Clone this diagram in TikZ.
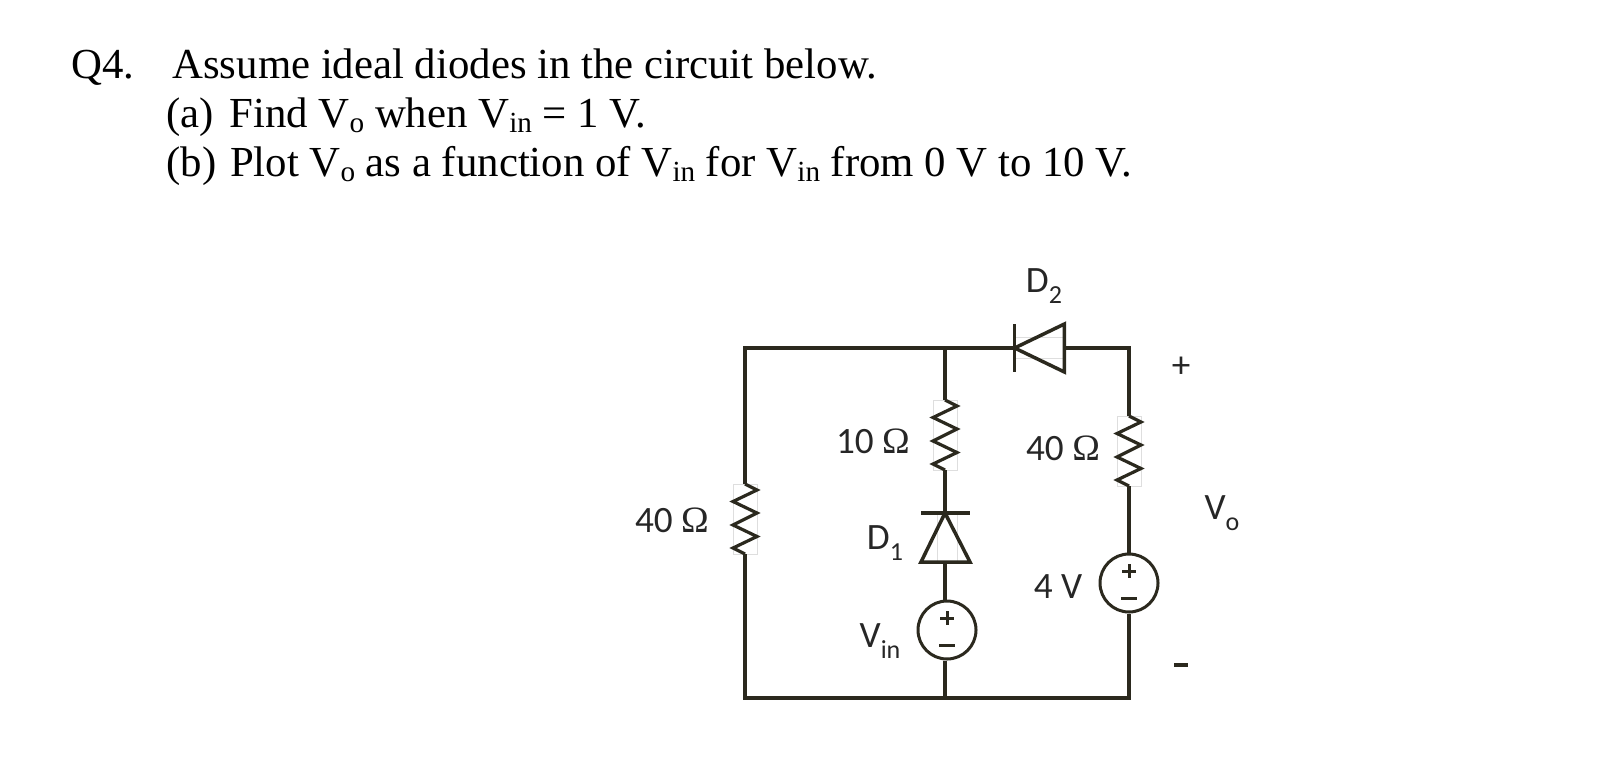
\documentclass[tikz,border=0pt]{standalone}
\usepackage{fontspec}
\setmainfont{Liberation Serif}
\newfontfamily\labelfont{Carlito}
\newfontfamily\ohmfont{Liberation Serif}
\usetikzlibrary{positioning,calc}
\definecolor{wirecol}{HTML}{2B291E}
\newcommand{\lowsub}[1]{\raisebox{-.12em}{\fontsize{14.6}{14.6}\selectfont #1}}
\newcommand{\labsub}[1]{\raisebox{-.3em}{\fontsize{13}{13}\selectfont #1}}
\newcommand{\ohm}{{\ohmfont Ω}}

\begin{document}
\begin{tikzpicture}[x=0.5pt,y=-0.5pt,line join=miter]
\tikzstyle{wire}=[draw=wirecol,line width=1.75pt]
\tikzstyle{boxfaint}=[draw=black!13,line width=.4pt,inner sep=0pt]
\tikzstyle{resbox}=[boxfaint,minimum width=12pt,minimum height=35pt]
\tikzstyle{srcnode}=[circle,draw=wirecol,line width=1.5pt,minimum size=29pt,inner sep=0pt]
\tikzstyle{textline}=[anchor=base west,inner sep=0pt,font=\fontsize{21.4}{21.4}\selectfont]
\tikzstyle{circlabel}=[inner sep=0pt,font=\labelfont\fontsize{18.6}{18.6}\selectfont,text=black!85]
\tikzset{
  zigzag/.pic={
    \draw[draw=wirecol,line width=1.6pt] (0,-35) -- (12,-29) -- (-12,-17.5) -- (12,-6) -- (-12,6) -- (12,17.5) -- (-12,29) -- (0,35);
  },
  plusminus/.pic={
    \draw[draw=wirecol,line width=1.5pt] (-7,-12) -- (7,-12) (0,-19) -- (0,-5) (-8,15) -- (8,15);
  }
}
\useasboundingbox (0,0) rectangle (1610,776);

% question text
\node[textline] (q)  at (71,78)   {Q4.};
\node[textline] (q0) at (172,78)  {Assume ideal diodes in the circuit below.};
\node[textline] (qa) at (166,127) {(a)\hspace{2.5pt} Find V\lowsub{o} when V\lowsub{in} = 1 V.};
\node[textline] (qb) at (166,176) {(b)\hspace{1.5pt} Plot V\lowsub{o} as a function of V\lowsub{in} for V\lowsub{in} from 0 V to 10 V.};

% corners and junctions
\coordinate (tl) at (745,348);
\coordinate (tm) at (945,348);
\coordinate (tr) at (1129,348);
\coordinate (bl) at (745,698);
\coordinate (bm) at (945,698);
\coordinate (br) at (1129,698);

% parts
\node[resbox] (r1) at (745,519) {};
\node[resbox] (r2) at (945,435) {};
\node[resbox] (r3) at (1129,451) {};
\node[boxfaint,minimum width=10pt,minimum height=24.5pt] (d1) at (947,537.5) {};
\node[boxfaint,minimum width=24.5pt,minimum height=10.5pt] (d2) at (1039.5,348) {};
\node[srcnode] (vin) at (947,630) {};
\node[srcnode] (v4)  at (1129,583) {};
\coordinate (d1top) at (945,513);
\coordinate (d1bot) at (945,562);

\pic at (r1) {zigzag};
\pic at (r2) {zigzag};
\pic at (r3) {zigzag};
\pic at (vin) {plusminus};
\pic at (v4) {plusminus};

% diodes
\draw[wire] (d1top) ++(-24,0) -- ++(49,0);
\draw[wire] (d1top) -- ($(d1bot)+(-24,0)$) -- ($(d1bot)+(25,0)$) -- cycle;
\draw[wire] (d2.west) ++(0,-24) -- ++(0,48);
\draw[wire] (d2.west) -- ($(d2.east)+(0,-24)$) -- ($(d2.east)+(0,24)$) -- cycle;

% wires
\draw[wire] (r1.north) -- (tl) -- (tm) -- (d2.west);
\draw[wire] (d2.east) -- (tr) -- (r3.north);
\draw[wire] (tm) -- (r2.north);
\draw[wire] (r2.south) -- (d1top);
\draw[wire] (d1bot) -- (d1bot|-vin.north);
\draw[wire] (r3.south) -- (v4.north);
\draw[wire,line width=2.2pt] (r1.south) -- (bl) -- (bm) -- (br) -- (v4.south);
\draw[wire] (bm|-vin.south) -- (bm);

% labels
\node[circlabel] (l40a) at (672,520) {40 \ohm};
\node[circlabel] (l10)  at (873,441) {10 \ohm};
\node[circlabel] (l40b) at (1063,448) {40 \ohm};
\node[circlabel] (l4)   at (1058,587) {4 V};
\node[circlabel] (ld1)  at (885,543) {D\labsub{1}};
\node[circlabel] (ld2)  at (1044,286) {D\labsub{2}};
\node[circlabel] (lvin) at (880,641) {V\labsub{in}};
\node[circlabel] (lvo)  at (1222,513) {V\labsub{o}};
\node[circlabel] (lp)   at (1181,367) {+};
\coordinate (m1) at (1174,665);
\coordinate (m2) at (1188,665);
\draw[wire,line width=1.7pt] (m1) -- (m2);
\end{tikzpicture}
\end{document}
